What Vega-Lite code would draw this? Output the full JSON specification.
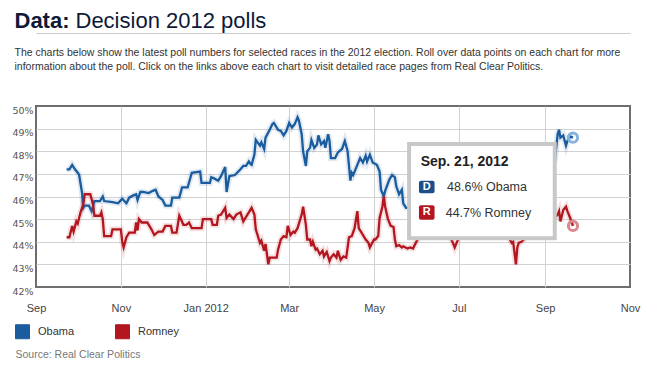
{
  "$schema": "https://vega.github.io/schema/vega-lite/v6.json",
  "width": 594,
  "height": 181,
  "autosize": {"type": "none"},
  "padding": {"left": 36, "top": 106, "right": 41, "bottom": 94},
  "background": "white",
  "config": {
    "font": "Liberation Sans",
    "view": {"stroke": "#6e6e6e", "strokeWidth": 2}
  },
  "datasets": {
    "polls": [
      {"d":"2011/09/23","c":"Obama","v":47.2},{"d":"2011/09/25","c":"Obama","v":47.2},{"d":"2011/09/27","c":"Obama","v":47.4},{"d":"2011/09/29","c":"Obama","v":47.2},
      {"d":"2011/10/01","c":"Obama","v":47.05},{"d":"2011/10/02","c":"Obama","v":46.95},{"d":"2011/10/04","c":"Obama","v":46.2},{"d":"2011/10/05","c":"Obama","v":45.5},
      {"d":"2011/10/06","c":"Obama","v":45.6},{"d":"2011/10/09","c":"Obama","v":45.6},{"d":"2011/10/11","c":"Obama","v":45.35},{"d":"2011/10/13","c":"Obama","v":45.8},
      {"d":"2011/10/17","c":"Obama","v":45.8},{"d":"2011/10/19","c":"Obama","v":46.0},{"d":"2011/10/20","c":"Obama","v":45.8},{"d":"2011/10/26","c":"Obama","v":45.75},
      {"d":"2011/10/30","c":"Obama","v":45.7},{"d":"2011/11/02","c":"Obama","v":45.9},{"d":"2011/11/05","c":"Obama","v":45.7},{"d":"2011/11/07","c":"Obama","v":45.95},
      {"d":"2011/11/10","c":"Obama","v":46.05},{"d":"2011/11/12","c":"Obama","v":46.1},{"d":"2011/11/13","c":"Obama","v":45.85},{"d":"2011/11/15","c":"Obama","v":46.2},
      {"d":"2011/11/17","c":"Obama","v":46.2},{"d":"2011/11/21","c":"Obama","v":46.15},{"d":"2011/11/24","c":"Obama","v":46.25},{"d":"2011/11/26","c":"Obama","v":46.3},
      {"d":"2011/11/28","c":"Obama","v":46.0},{"d":"2011/12/01","c":"Obama","v":45.85},{"d":"2011/12/03","c":"Obama","v":45.6},{"d":"2011/12/07","c":"Obama","v":45.6},
      {"d":"2011/12/08","c":"Obama","v":45.95},{"d":"2011/12/13","c":"Obama","v":45.95},{"d":"2011/12/15","c":"Obama","v":46.4},{"d":"2011/12/19","c":"Obama","v":46.4},
      {"d":"2011/12/22","c":"Obama","v":47.05},{"d":"2011/12/28","c":"Obama","v":47.1},{"d":"2011/12/29","c":"Obama","v":46.6},{"d":"2012/01/04","c":"Obama","v":46.6},
      {"d":"2012/01/05","c":"Obama","v":46.85},{"d":"2012/01/07","c":"Obama","v":46.8},{"d":"2012/01/10","c":"Obama","v":46.7},{"d":"2012/01/12","c":"Obama","v":46.9},
      {"d":"2012/01/15","c":"Obama","v":47.3},{"d":"2012/01/16","c":"Obama","v":46.2},{"d":"2012/01/18","c":"Obama","v":46.9},{"d":"2012/01/22","c":"Obama","v":46.95},
      {"d":"2012/01/26","c":"Obama","v":47.2},{"d":"2012/01/28","c":"Obama","v":47.35},{"d":"2012/01/30","c":"Obama","v":47.35},{"d":"2012/02/01","c":"Obama","v":47.55},
      {"d":"2012/02/02","c":"Obama","v":47.45},{"d":"2012/02/03","c":"Obama","v":47.4},{"d":"2012/02/05","c":"Obama","v":47.85},{"d":"2012/02/06","c":"Obama","v":48.5},
      {"d":"2012/02/09","c":"Obama","v":48.25},{"d":"2012/02/10","c":"Obama","v":48.4},{"d":"2012/02/12","c":"Obama","v":48.1},{"d":"2012/02/13","c":"Obama","v":48.6},
      {"d":"2012/02/16","c":"Obama","v":48.95},{"d":"2012/02/18","c":"Obama","v":49.2},{"d":"2012/02/19","c":"Obama","v":49.25},{"d":"2012/02/22","c":"Obama","v":48.95},
      {"d":"2012/02/24","c":"Obama","v":48.9},{"d":"2012/02/26","c":"Obama","v":48.7},{"d":"2012/02/28","c":"Obama","v":48.9},{"d":"2012/03/01","c":"Obama","v":49.25},
      {"d":"2012/03/03","c":"Obama","v":49.05},{"d":"2012/03/05","c":"Obama","v":49.2},{"d":"2012/03/07","c":"Obama","v":49.5},{"d":"2012/03/08","c":"Obama","v":49.35},
      {"d":"2012/03/10","c":"Obama","v":48.75},{"d":"2012/03/11","c":"Obama","v":48.0},{"d":"2012/03/13","c":"Obama","v":47.35},{"d":"2012/03/14","c":"Obama","v":48.0},
      {"d":"2012/03/16","c":"Obama","v":48.15},{"d":"2012/03/17","c":"Obama","v":48.5},{"d":"2012/03/19","c":"Obama","v":48.15},{"d":"2012/03/21","c":"Obama","v":48.3},
      {"d":"2012/03/22","c":"Obama","v":48.7},{"d":"2012/03/24","c":"Obama","v":48.3},{"d":"2012/03/26","c":"Obama","v":48.45},{"d":"2012/03/27","c":"Obama","v":48.15},
      {"d":"2012/03/29","c":"Obama","v":48.75},{"d":"2012/03/30","c":"Obama","v":48.45},{"d":"2012/03/31","c":"Obama","v":47.7},{"d":"2012/04/03","c":"Obama","v":47.7},
      {"d":"2012/04/05","c":"Obama","v":47.95},{"d":"2012/04/08","c":"Obama","v":48.1},{"d":"2012/04/10","c":"Obama","v":48.45},{"d":"2012/04/12","c":"Obama","v":48.0},
      {"d":"2012/04/14","c":"Obama","v":46.7},{"d":"2012/04/15","c":"Obama","v":47.05},{"d":"2012/04/16","c":"Obama","v":46.95},{"d":"2012/04/19","c":"Obama","v":47.4},
      {"d":"2012/04/21","c":"Obama","v":47.7},{"d":"2012/04/23","c":"Obama","v":47.5},{"d":"2012/04/25","c":"Obama","v":47.8},{"d":"2012/04/26","c":"Obama","v":47.55},
      {"d":"2012/04/28","c":"Obama","v":47.85},{"d":"2012/04/30","c":"Obama","v":47.5},{"d":"2012/05/03","c":"Obama","v":47.4},{"d":"2012/05/05","c":"Obama","v":47.1},
      {"d":"2012/05/06","c":"Obama","v":46.3},{"d":"2012/05/08","c":"Obama","v":46.0},{"d":"2012/05/09","c":"Obama","v":46.25},{"d":"2012/05/12","c":"Obama","v":46.75},
      {"d":"2012/05/14","c":"Obama","v":46.95},{"d":"2012/05/16","c":"Obama","v":46.85},{"d":"2012/05/17","c":"Obama","v":46.45},{"d":"2012/05/19","c":"Obama","v":46.1},
      {"d":"2012/05/21","c":"Obama","v":46.3},{"d":"2012/05/22","c":"Obama","v":45.7},{"d":"2012/05/24","c":"Obama","v":45.5},{"d":"2012/05/25","c":"Obama","v":45.5},
      {"d":"2012/06/10","c":"Obama","v":46.4},{"d":"2012/07/05","c":"Obama","v":46.8},{"d":"2012/08/01","c":"Obama","v":46.6},{"d":"2012/08/20","c":"Obama","v":47.0},
      {"d":"2012/09/08","c":"Obama","v":47.6},{"d":"2012/09/10","c":"Obama","v":48.75},{"d":"2012/09/11","c":"Obama","v":48.95},{"d":"2012/09/12","c":"Obama","v":48.6},
      {"d":"2012/09/14","c":"Obama","v":48.7},{"d":"2012/09/16","c":"Obama","v":48.25},{"d":"2012/09/17","c":"Obama","v":48.45},{"d":"2012/09/19","c":"Obama","v":48.65},
      {"d":"2012/09/21","c":"Obama","v":48.6},
      {"d":"2011/09/23","c":"Romney","v":44.2},{"d":"2011/09/25","c":"Romney","v":44.2},{"d":"2011/09/27","c":"Romney","v":44.7},{"d":"2011/09/28","c":"Romney","v":44.45},
      {"d":"2011/09/30","c":"Romney","v":44.9},{"d":"2011/10/01","c":"Romney","v":44.8},{"d":"2011/10/03","c":"Romney","v":45.3},{"d":"2011/10/05","c":"Romney","v":45.65},
      {"d":"2011/10/06","c":"Romney","v":46.1},{"d":"2011/10/10","c":"Romney","v":46.1},{"d":"2011/10/12","c":"Romney","v":45.65},{"d":"2011/10/13","c":"Romney","v":45.15},
      {"d":"2011/10/17","c":"Romney","v":45.15},{"d":"2011/10/18","c":"Romney","v":45.3},{"d":"2011/10/19","c":"Romney","v":45.0},{"d":"2011/10/20","c":"Romney","v":44.25},
      {"d":"2011/10/25","c":"Romney","v":44.25},{"d":"2011/10/26","c":"Romney","v":44.55},{"d":"2011/11/01","c":"Romney","v":44.55},{"d":"2011/11/02","c":"Romney","v":44.0},
      {"d":"2011/11/03","c":"Romney","v":43.75},{"d":"2011/11/05","c":"Romney","v":44.2},{"d":"2011/11/07","c":"Romney","v":44.4},{"d":"2011/11/11","c":"Romney","v":44.4},
      {"d":"2011/11/12","c":"Romney","v":44.85},{"d":"2011/11/13","c":"Romney","v":44.5},{"d":"2011/11/14","c":"Romney","v":45.0},{"d":"2011/11/16","c":"Romney","v":44.85},
      {"d":"2011/11/20","c":"Romney","v":44.85},{"d":"2011/11/23","c":"Romney","v":44.55},{"d":"2011/11/25","c":"Romney","v":44.3},{"d":"2011/11/28","c":"Romney","v":44.45},
      {"d":"2011/12/01","c":"Romney","v":44.45},{"d":"2011/12/03","c":"Romney","v":44.7},{"d":"2011/12/07","c":"Romney","v":44.7},{"d":"2011/12/08","c":"Romney","v":44.4},
      {"d":"2011/12/11","c":"Romney","v":44.4},{"d":"2011/12/13","c":"Romney","v":45.15},{"d":"2011/12/16","c":"Romney","v":44.75},{"d":"2011/12/18","c":"Romney","v":44.75},
      {"d":"2011/12/20","c":"Romney","v":44.85},{"d":"2011/12/22","c":"Romney","v":44.6},{"d":"2011/12/29","c":"Romney","v":44.6},{"d":"2011/12/30","c":"Romney","v":45.0},
      {"d":"2012/01/05","c":"Romney","v":45.0},{"d":"2012/01/06","c":"Romney","v":44.75},{"d":"2012/01/09","c":"Romney","v":44.75},{"d":"2012/01/10","c":"Romney","v":45.15},
      {"d":"2012/01/12","c":"Romney","v":45.2},{"d":"2012/01/15","c":"Romney","v":45.5},{"d":"2012/01/16","c":"Romney","v":45.05},{"d":"2012/01/18","c":"Romney","v":45.2},
      {"d":"2012/01/21","c":"Romney","v":45.0},{"d":"2012/01/23","c":"Romney","v":45.2},{"d":"2012/01/26","c":"Romney","v":45.3},{"d":"2012/01/28","c":"Romney","v":44.9},
      {"d":"2012/02/01","c":"Romney","v":45.3},{"d":"2012/02/03","c":"Romney","v":45.5},{"d":"2012/02/05","c":"Romney","v":45.2},{"d":"2012/02/06","c":"Romney","v":44.55},
      {"d":"2012/02/09","c":"Romney","v":43.95},{"d":"2012/02/10","c":"Romney","v":44.05},{"d":"2012/02/12","c":"Romney","v":43.6},{"d":"2012/02/13","c":"Romney","v":43.9},
      {"d":"2012/02/15","c":"Romney","v":43.0},{"d":"2012/02/16","c":"Romney","v":43.3},{"d":"2012/02/18","c":"Romney","v":43.3},{"d":"2012/02/21","c":"Romney","v":43.3},
      {"d":"2012/02/22","c":"Romney","v":43.65},{"d":"2012/02/24","c":"Romney","v":44.1},{"d":"2012/02/26","c":"Romney","v":44.25},{"d":"2012/02/28","c":"Romney","v":44.2},
      {"d":"2012/02/29","c":"Romney","v":44.7},{"d":"2012/03/02","c":"Romney","v":44.3},{"d":"2012/03/04","c":"Romney","v":44.45},{"d":"2012/03/05","c":"Romney","v":44.4},
      {"d":"2012/03/07","c":"Romney","v":44.6},{"d":"2012/03/10","c":"Romney","v":45.2},{"d":"2012/03/11","c":"Romney","v":45.55},{"d":"2012/03/13","c":"Romney","v":44.75},
      {"d":"2012/03/14","c":"Romney","v":44.1},{"d":"2012/03/16","c":"Romney","v":44.1},{"d":"2012/03/17","c":"Romney","v":43.8},{"d":"2012/03/18","c":"Romney","v":44.0},
      {"d":"2012/03/20","c":"Romney","v":43.65},{"d":"2012/03/21","c":"Romney","v":43.7},{"d":"2012/03/23","c":"Romney","v":43.45},{"d":"2012/03/25","c":"Romney","v":43.6},
      {"d":"2012/03/26","c":"Romney","v":43.35},{"d":"2012/03/28","c":"Romney","v":43.55},{"d":"2012/03/30","c":"Romney","v":43.15},{"d":"2012/03/31","c":"Romney","v":43.3},
      {"d":"2012/04/02","c":"Romney","v":43.45},{"d":"2012/04/04","c":"Romney","v":43.3},{"d":"2012/04/05","c":"Romney","v":43.6},{"d":"2012/04/07","c":"Romney","v":43.2},
      {"d":"2012/04/09","c":"Romney","v":43.35},{"d":"2012/04/11","c":"Romney","v":43.3},{"d":"2012/04/13","c":"Romney","v":44.2},{"d":"2012/04/15","c":"Romney","v":44.25},
      {"d":"2012/04/17","c":"Romney","v":44.6},{"d":"2012/04/19","c":"Romney","v":45.35},{"d":"2012/04/20","c":"Romney","v":44.6},{"d":"2012/04/22","c":"Romney","v":44.4},
      {"d":"2012/04/25","c":"Romney","v":44.1},{"d":"2012/04/27","c":"Romney","v":43.95},{"d":"2012/04/28","c":"Romney","v":43.75},{"d":"2012/05/01","c":"Romney","v":44.1},
      {"d":"2012/05/02","c":"Romney","v":44.1},{"d":"2012/05/04","c":"Romney","v":44.25},{"d":"2012/05/05","c":"Romney","v":45.05},{"d":"2012/05/07","c":"Romney","v":45.55},
      {"d":"2012/05/08","c":"Romney","v":46.0},{"d":"2012/05/09","c":"Romney","v":45.55},{"d":"2012/05/11","c":"Romney","v":45.0},{"d":"2012/05/13","c":"Romney","v":44.7},
      {"d":"2012/05/15","c":"Romney","v":44.65},{"d":"2012/05/16","c":"Romney","v":44.1},{"d":"2012/05/17","c":"Romney","v":43.8},{"d":"2012/05/19","c":"Romney","v":43.85},
      {"d":"2012/05/21","c":"Romney","v":43.75},{"d":"2012/05/22","c":"Romney","v":43.8},{"d":"2012/05/25","c":"Romney","v":43.7},{"d":"2012/05/27","c":"Romney","v":43.75},
      {"d":"2012/05/29","c":"Romney","v":43.7},{"d":"2012/05/31","c":"Romney","v":43.95},{"d":"2012/06/04","c":"Romney","v":44.4},{"d":"2012/06/20","c":"Romney","v":44.5},
      {"d":"2012/06/24","c":"Romney","v":44.3},{"d":"2012/06/26","c":"Romney","v":44.05},{"d":"2012/06/28","c":"Romney","v":43.75},{"d":"2012/06/30","c":"Romney","v":44.05},
      {"d":"2012/07/02","c":"Romney","v":44.3},{"d":"2012/07/15","c":"Romney","v":44.5},{"d":"2012/08/04","c":"Romney","v":44.4},{"d":"2012/08/08","c":"Romney","v":43.95},
      {"d":"2012/08/09","c":"Romney","v":44.0},{"d":"2012/08/11","c":"Romney","v":43.0},{"d":"2012/08/12","c":"Romney","v":43.75},{"d":"2012/08/13","c":"Romney","v":43.95},
      {"d":"2012/08/15","c":"Romney","v":44.0},{"d":"2012/08/25","c":"Romney","v":44.6},{"d":"2012/09/07","c":"Romney","v":45.0},{"d":"2012/09/10","c":"Romney","v":45.2},
      {"d":"2012/09/11","c":"Romney","v":45.35},{"d":"2012/09/12","c":"Romney","v":44.9},{"d":"2012/09/14","c":"Romney","v":45.4},{"d":"2012/09/16","c":"Romney","v":45.55},
      {"d":"2012/09/17","c":"Romney","v":45.35},{"d":"2012/09/19","c":"Romney","v":45.05},{"d":"2012/09/21","c":"Romney","v":44.7}
    ]
  },
  "layer": [
    {
      "data": {"name": "polls"},
      "mark": {"type": "line", "strokeWidth": 6, "opacity": 0.13},
      "encoding": {
        "x": {"field": "d", "type": "temporal",
              "scale": {"domain": [{"year": 2011, "month": 9, "date": 1}, {"year": 2012, "month": 11, "date": 1}], "nice": false},
              "axis": {
                "orient": "bottom",
                "values": [{"year": 2011, "month": 9, "date": 1}, {"year": 2011, "month": 11, "date": 1}, {"year": 2012, "month": 1, "date": 1}, {"year": 2012, "month": 3, "date": 1}, {"year": 2012, "month": 5, "date": 1}, {"year": 2012, "month": 7, "date": 1}, {"year": 2012, "month": 9, "date": 1}, {"year": 2012, "month": 11, "date": 1}],
                "labelExpr": "month(datum.value) == 0 ? timeFormat(datum.value, '%b %Y') : timeFormat(datum.value, '%b')",
                "grid": true,
                "gridColor": {"condition": {"test": "datum.index === 0 || datum.index === 1", "value": "transparent"}, "value": "#d2d2d2"},
                "domain": false, "tickSize": 0, "labelPadding": 15,
                "labelFontSize": 11, "labelColor": "#444",
                "labelFlush": false, "labelOverlap": false,
                "title": "Source: Real Clear Politics",
                "titleX": -21, "titleY": 67, "titleAnchor": "start", "titleAlign": "left", "titleBaseline": "middle",
                "titleFontSize": 10.5, "titleFontWeight": "normal", "titleColor": "#777"
              }},
        "y": {"field": "v", "type": "quantitative",
              "scale": {"domain": [42, 50], "nice": false, "zero": false},
              "axis": {
                "orient": "left",
                "values": [42, 43, 44, 45, 46, 47, 48, 49, 50],
                "labelExpr": "datum.value + '%'",
                "grid": true,
                "gridColor": {"condition": {"test": "datum.value === 42 || datum.value === 50", "value": "transparent"}, "value": "#d2d2d2"},
                "domain": false, "tickSize": 0, "labelPadding": 3, "labelOffset": 4,
                "labelFont": "DejaVu Sans", "labelFontSize": 9.5, "labelColor": "#555",
                "title": null
              }},
        "color": {"field": "c", "type": "nominal",
                  "scale": {"domain": ["Obama", "Romney"], "range": ["#1a5c9e", "#b3161e"]},
                  "legend": {
                    "orient": "none", "legendX": -21, "legendY": 218, "direction": "horizontal", "title": null,
                    "symbolType": "square", "symbolSize": 196, "symbolOpacity": 1, "labelFontSize": 11, "labelColor": "#333",
                    "labelOffset": 8, "columnPadding": 38,
                    "encode": {"symbols": {"update": {"fill": {"scale": "color", "field": "value"}, "stroke": {"value": "#c4c4c4"}, "strokeWidth": {"value": 1}, "opacity": {"value": 1}, "fillOpacity": {"value": 1}, "strokeOpacity": {"value": 1}}}}
                  }}
      }
    },
    {
      "data": {"name": "polls"},
      "mark": {"type": "line", "strokeWidth": 2.3},
      "encoding": {
        "x": {"field": "d", "type": "temporal", "axis": null},
        "y": {"field": "v", "type": "quantitative", "axis": null},
        "color": {"field": "c", "type": "nominal", "legend": null}
      }
    },
    {
      "data": {"values": [{"box": "tooltip"}]},
      "mark": {"type": "rect", "fill": "white", "stroke": "#c8c8c8", "strokeWidth": 4},
      "encoding": {
        "x": {"datum": {"year": 2012, "month": 5, "date": 26, "hours": 5}, "type": "temporal",
              "axis": {"orient": "top", "offset": 73, "domain": true, "domainColor": "#cccccc", "domainWidth": 1,
                       "labels": false, "ticks": false, "grid": false,
                       "title": "Data:", "titleX": -22, "titleY": -13, "titleAnchor": "start", "titleAlign": "left", "titleBaseline": "middle",
                       "titleFontSize": 22, "titleFontWeight": "bold", "titleColor": "#0e1a38", "titleLimit": 1000}},
        "x2": {"datum": {"year": 2012, "month": 9, "date": 7, "hours": 22}},
        "y": {"datum": 48.32, "type": "quantitative", "axis": null},
        "y2": {"datum": 44.16}
      }
    },
    {
      "data": {"values": [{"t": "Sep. 21, 2012"}]},
      "mark": {"type": "text", "align": "left", "baseline": "middle", "fontSize": 14, "fontWeight": "bold", "color": "#222"},
      "encoding": {
        "x": {"datum": {"year": 2012, "month": 6, "date": 3, "hours": 12}, "type": "temporal",
              "axis": {"orient": "top", "offset": 73, "domain": false, "labels": false, "ticks": false, "grid": false,
                       "title": "Decision 2012 polls", "titleX": 39, "titleY": -13, "titleAnchor": "start", "titleAlign": "left", "titleBaseline": "middle",
                       "titleFontSize": 22, "titleFontWeight": "normal", "titleColor": "#0e1a38", "titleLimit": 1000}},
        "y": {"datum": 47.54, "type": "quantitative", "axis": null},
        "text": {"field": "t"}
      }
    },
    {
      "data": {"values": [{"t": "D"}]},
      "mark": {"type": "rect", "fill": "#1b4f8a", "cornerRadius": 2},
      "encoding": {
        "x": {"datum": {"year": 2012, "month": 6, "date": 2, "hours": 7}, "type": "temporal", "axis": null},
        "x2": {"datum": {"year": 2012, "month": 6, "date": 13, "hours": 12}},
        "y": {"datum": 46.70, "type": "quantitative", "axis": null},
        "y2": {"datum": 46.14}
      }
    },
    {
      "data": {"values": [{"t": "R"}]},
      "mark": {"type": "rect", "fill": "#b3161e", "cornerRadius": 2},
      "encoding": {
        "x": {"datum": {"year": 2012, "month": 6, "date": 2, "hours": 7}, "type": "temporal", "axis": null},
        "x2": {"datum": {"year": 2012, "month": 6, "date": 13, "hours": 12}},
        "y": {"datum": 45.61, "type": "quantitative", "axis": null},
        "y2": {"datum": 44.97}
      }
    },
    {
      "data": {"values": [{"t": "D"}]},
      "mark": {"type": "text", "align": "center", "baseline": "middle", "fontSize": 11, "fontWeight": "bold", "color": "white"},
      "encoding": {
        "x": {"datum": {"year": 2012, "month": 6, "date": 7, "hours": 21}, "type": "temporal", "axis": null},
        "y": {"datum": 46.43, "type": "quantitative", "axis": null},
        "text": {"field": "t"}
      }
    },
    {
      "data": {"values": [{"t": "R"}]},
      "mark": {"type": "text", "align": "center", "baseline": "middle", "fontSize": 11, "fontWeight": "bold", "color": "white"},
      "encoding": {
        "x": {"datum": {"year": 2012, "month": 6, "date": 7, "hours": 21}, "type": "temporal", "axis": null},
        "y": {"datum": 45.30, "type": "quantitative", "axis": null},
        "text": {"field": "t"}
      }
    },
    {
      "data": {"values": [{"t": "48.6% Obama"}]},
      "mark": {"type": "text", "align": "left", "baseline": "middle", "fontSize": 12.5, "color": "#333"},
      "encoding": {
        "x": {"datum": {"year": 2012, "month": 6, "date": 22, "hours": 12}, "type": "temporal", "axis": null},
        "y": {"datum": 46.44, "type": "quantitative", "axis": null},
        "text": {"field": "t"}
      }
    },
    {
      "data": {"values": [{"t": "44.7% Romney"}]},
      "mark": {"type": "text", "align": "left", "baseline": "middle", "fontSize": 12.5, "color": "#333"},
      "encoding": {
        "x": {"datum": {"year": 2012, "month": 6, "date": 21, "hours": 12}, "type": "temporal", "axis": null},
        "y": {"datum": 45.27, "type": "quantitative", "axis": null},
        "text": {"field": "t"}
      }
    },
    {
      "data": {"values": [{"d": "2012/09/21", "c": "Obama", "v": 48.6}, {"d": "2012/09/21", "c": "Romney", "v": 44.7}]},
      "mark": {"type": "point", "filled": false, "size": 85, "strokeWidth": 3, "opacity": 1},
      "encoding": {
        "x": {"field": "d", "type": "temporal",
              "axis": {"orient": "top", "offset": 0, "domain": false, "labels": false, "ticks": false, "grid": false,
                       "title": ["The charts below show the latest poll numbers for selected races in the 2012 election. Roll over data points on each chart for more", "information about the poll. Click on the links above each chart to visit detailed race pages from Real Clear Politics."],
                       "titleX": -22, "titleY": -59, "titleAnchor": "start", "titleAlign": "left", "titleBaseline": "top",
                       "titleFontSize": 10.5, "titleFontWeight": "normal", "titleColor": "#333", "titleLineHeight": 14.5, "titleLimit": 1000}},
        "y": {"field": "v", "type": "quantitative", "axis": null},
        "stroke": {"field": "c", "type": "nominal", "legend": null,
                   "scale": {"domain": ["Obama", "Romney"], "range": ["#86b2dc", "#d78890"]}}
      }
    }
  ],
  "resolve": {"axis": {"x": "independent", "y": "independent"}, "legend": {"color": "independent"}}
}
